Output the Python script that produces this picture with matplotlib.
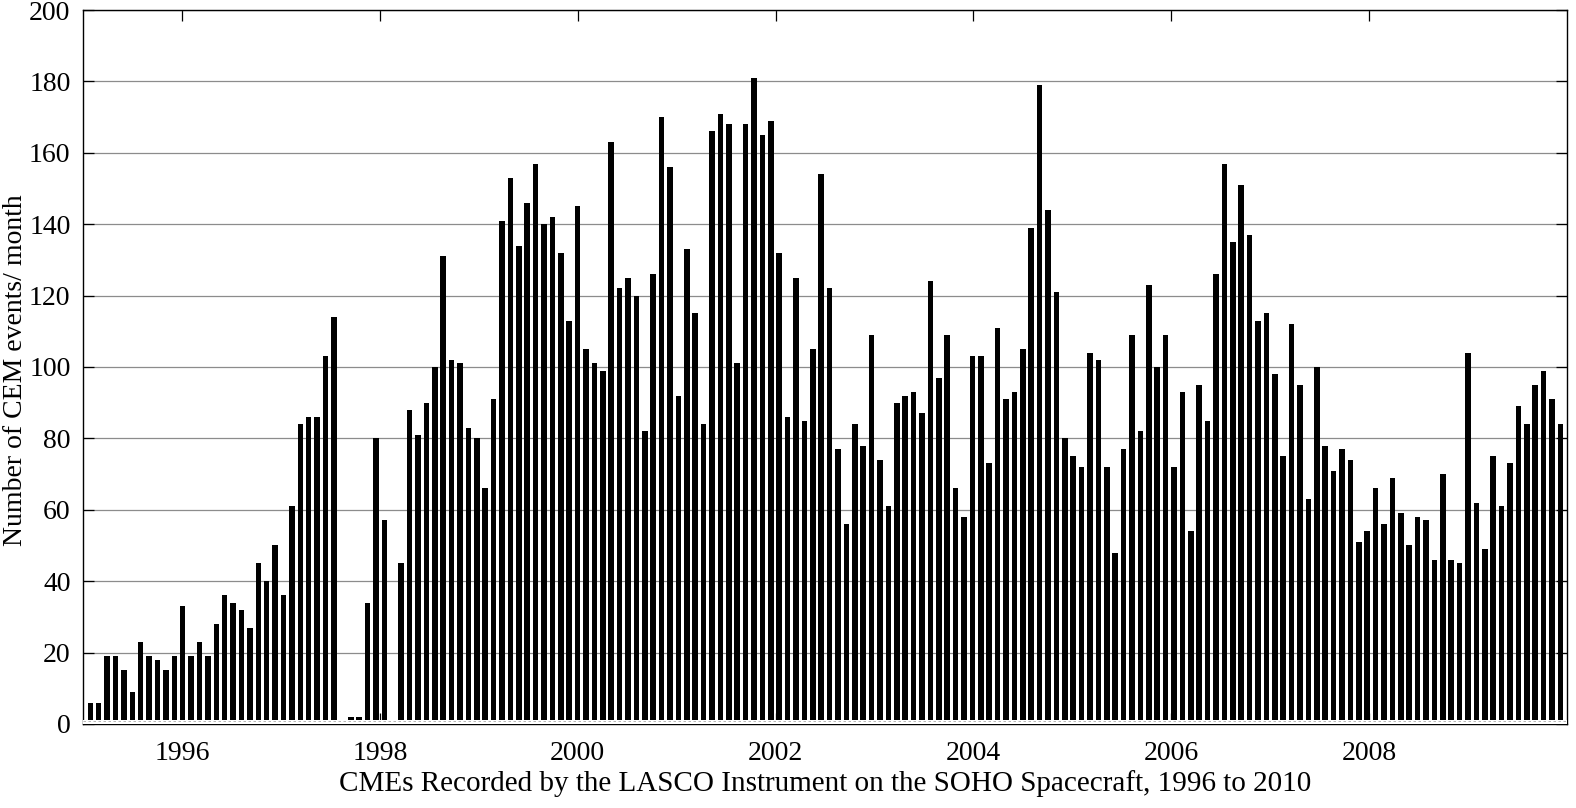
import matplotlib
matplotlib.use('Agg')
import matplotlib.pyplot as plt
import numpy as np

plt.rcParams['font.family'] = ['Liberation Serif', 'DejaVu Serif']

# monthly CME counts
cme_counts = np.array([
    6, 6, 19, 19, 15, 9, 23, 19, 18, 15, 19, 33, 19, 23, 19, 28, 36, 34, 32, 27,
    45, 40, 50, 36, 61, 84, 86, 86, 103, 114,
    0, 2, 2, 34, 80, 57, 0,
    45, 88, 81, 90, 100, 131, 102, 101, 83, 80, 66, 91, 141, 153, 134, 146, 157,
    140, 142, 132, 113, 145, 105,
    101, 99, 163, 122, 125, 120, 82, 126, 170, 156, 92, 133, 115, 84, 166, 171,
    168, 101, 168, 181, 165, 169, 132, 86, 125, 85, 105, 154, 122,
    77, 56, 84, 78, 109, 74, 61, 90, 92, 93, 87, 124, 97, 109, 66, 58, 103, 103,
    73, 111, 91, 93, 105, 139, 179, 144, 121, 80, 75, 72,
    104, 102, 72, 48, 77, 109, 82, 123, 100, 109, 72, 93, 54, 95, 85, 126, 157,
    135, 151, 137, 113, 115, 98, 75, 112, 95, 63, 100, 78, 71,
    77, 74, 51, 54, 66, 56, 69, 59, 50, 58, 57, 46, 70, 46, 45, 104, 62, 49, 75,
    61, 73, 89, 84, 95, 99, 91, 84,
])
year_ticks = [1996, 1998, 2000, 2002, 2004, 2006, 2008]
y_ticks = list(range(0, 201, 20))

# bars spread evenly from just after 1995 to just before 2010
x = np.linspace(1995 + 0.88 / 12, 1995 + 179.2 / 12, len(cme_counts))
step = x[1] - x[0]

fig = plt.figure(figsize=(15.76, 8.08), dpi=100)
ax = fig.add_axes([0.0527, 0.104, 0.9416, 0.8836])

ax.bar(x, cme_counts, width=0.66 * step, color='black', zorder=2)
# thin white strip with faint dashed baseline under the bars
ax.axhspan(0, 1.2, color='white', zorder=3, lw=0)
ax.axhline(0.9, color='#aaaaaa', lw=0.6, ls=(0, (3, 3)), zorder=4)

ax.set_xlim(1995, 2010)
ax.set_ylim(0, 200)
ax.set_xticks(year_ticks)
ax.set_yticks(y_ticks)
ax.yaxis.grid(True, color='#8c8c8c', lw=0.9, zorder=1)
ax.set_axisbelow(True)

ax.tick_params(direction='in', length=8, width=0.9, top=True, right=True,
               labelsize=20)
ax.tick_params(axis='x', pad=12)
ax.tick_params(axis='y', pad=9)
for s in ax.spines.values():
    s.set_linewidth(1.0)

ax.set_xlabel('CMEs Recorded by the LASCO Instrument on the SOHO Spacecraft, 1996 to 2010',
              fontsize=21, labelpad=3)
ax.set_ylabel('Number of CEM events/ month', fontsize=20, va='center')
ax.yaxis.set_label_coords(-0.0455, 0.496)

fig.savefig('out.png', dpi=100)
